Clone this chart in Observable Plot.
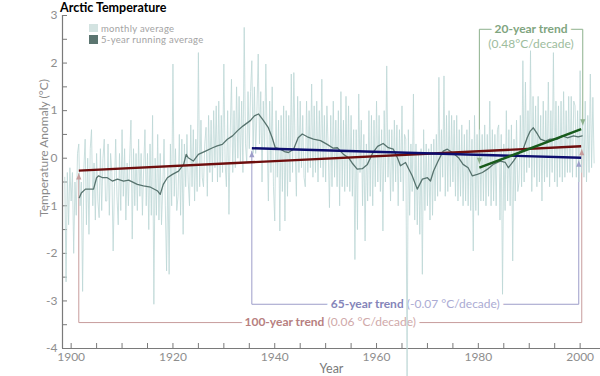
<!DOCTYPE html>
<html>
<head>
<meta charset="utf-8">
<script src="https://cdn.jsdelivr.net/npm/d3@7"></script>
<script src="https://cdn.jsdelivr.net/npm/@observablehq/plot@0.6"></script>
<style>
  body { margin: 0; background: #fff; }
  #wrap { position: relative; width: 600px; height: 376px; font-family: Lato, "Open Sans", sans-serif; }
  #wrap svg { position: absolute; left: 0; top: 0; }
  #title { position: absolute; left: 60px; top: 0px; font-weight: bold; font-size: 12.5px; color: #000; line-height: 15px; }
  #ylab { position: absolute; left: 43px; top: 148px; transform: translate(-50%, -50%) rotate(-90deg); white-space: nowrap; font-size: 12px; color: #8a8a8a; line-height: 13px; }
  .sw { position: absolute; left: 89px; width: 8.5px; height: 8.5px; }
  .lt { position: absolute; left: 101px; font-size: 9.5px; letter-spacing: 0.3px; color: #a3a3a3; line-height: 9px; white-space: nowrap; }
</style>
</head>
<body>
<div id="wrap">
  <div id="title"></div>
  <div id="ylab"></div>
</div>
<script>
// ---------- DATA ----------
const title = "Arctic Temperature";
const legendLabels = ["monthly average", "5-year running average"];
const xLabel = "Year";
const yLabel = "Temperature Anomaly (°C)";
const xTickYears = [1900, 1905, 1910, 1915, 1920, 1925, 1930, 1935, 1940, 1945, 1950, 1955, 1960, 1965, 1970, 1975, 1980, 1985, 1990, 1995, 2000];
const xLabelYears = [1900, 1920, 1940, 1960, 1980, 2000];
const yTickValues = [-4, -3.5, -3, -2.5, -2, -1.5, -1, -0.5, 0, 0.5, 1, 1.5, 2, 2.5, 3];
const yLabelValues = [-4, -3, -2, -1, 0, 1, 2, 3];

// monthly series (sampled quarterly), starting 1898.75
const monthlyStart = 1898.75;
const monthlyStep = 0.25;
const monthlyTemp = [
  -0.4,
  -2.6,-0.3,-1.4,-0.2,  -0.9,-0.3,-2.0,-0.5,  -1.2,0.1,0.3,-1.0,  -0.5,-2.8,-0.2,0.4,
  -1.4,0.0,-1.6,0.2,  0.6,-1.0,-0.1,-1.3,  0.1,-0.9,-1.25,0.2,  -1.1,0.0,0.4,-0.9,
  -0.9,0.3,-1.2,0.1,  -0.3,-1.95,-0.6,0.4,  -0.8,-1.4,0.1,-1.1,
  0.6,-0.8,0.2,-1.3,  -0.1,-1.0,0.0,0.8,  -1.7,0.2,-1.0,0.1,  -1.1,0.4,-0.8,0.1,
  -1.2,-0.2,0.6,-1.0,  0.1,-1.5,0.3,-1.2,  0.9,-3.07,0.0,-1.2,  0.5,-1.3,0.1,-1.4,
  -0.6,0.4,-1.0,-2.37,  -0.2,-2.44,0.3,-1.0,
  1.98,-0.8,0.2,-1.1,  -0.8,0.5,-1.2,0.4,  -1.6,0.3,-0.6,0.5,  -0.5,-1.0,0.7,-0.6,
  0.6,-0.9,0.4,-0.7,  2.22,-0.6,0.8,-0.4,  -0.6,0.3,0.65,-0.8,  0.9,-0.3,0.8,-0.5,
  1.0,-0.2,1.1,-0.5,  1.2,-0.4,0.9,-0.3,
  1.98,-0.1,-0.6,1.0,  -1.18,0.5,1.66,-0.3,  1.0,-0.2,1.5,0.0,  1.3,-0.1,1.2,-0.3,
  2.75,0.3,-0.1,1.4,  0.2,1.4,2.05,0.1,  1.5,0.1,1.0,2.19,  0.3,1.4,-0.5,1.2,
  0.2,1.98,0.4,-0.9,  1.2,-0.3,1.5,-0.6,
  -1.32,1.0,-0.4,0.8,  -1.53,0.9,-0.7,1.1,  -1.32,1.0,-0.8,0.9,  -0.5,1.77,-0.3,1.8,
  0.2,-0.8,1.3,-0.3,  1.2,-0.2,0.9,-0.4,  -0.6,1.2,-0.3,1.0,  -0.2,1.56,-0.4,1.1,
  -0.3,1.2,-0.5,1.0,  -0.2,1.66,-0.4,0.9,
  -0.5,1.1,0.2,-1.04,  0.9,-0.6,1.2,-0.4,  0.8,-0.6,1.0,-1.0,  1.4,-0.6,0.8,-0.7,
  1.3,-0.6,1.1,-0.7,  0.9,-0.8,0.6,-2.13,  0.6,-1.5,1.35,-0.3,  0.8,-1.0,0.5,-1.74,
  0.3,-0.9,1.0,-0.8,  0.9,-1.0,0.8,-0.6,
  1.2,-0.5,0.9,-0.7,  0.6,-1.53,1.0,-0.5,  1.94,-0.4,0.6,-0.9,  0.6,-0.7,0.8,-0.5,
  0.7,-1.0,0.6,-0.5,  1.1,-0.9,0.5,0.4,  -4.6,0.6,-1.2,0.3,  -0.7,1.35,-1.3,0.3,
  -1.4,0.1,-1.6,0.2,  -2.44,0.6,-1.1,0.3,
  -1.0,0.2,-1.3,0.3,  -1.2,0.4,-0.9,0.5,  -0.8,1.7,-0.7,0.6,  -0.4,1.73,-0.8,0.9,
  -0.7,1.0,-0.6,0.9,  -0.5,0.8,-0.8,0.9,  -0.9,0.6,-0.8,0.7,  -1.0,0.5,-0.9,0.6,
  -1.0,0.8,-1.1,0.4,  -1.95,0.9,-1.1,0.5,
  -1.2,0.6,-0.9,0.5,  -0.9,0.7,-1.0,0.5,  -0.8,1.2,-1.0,0.6,  -0.9,0.5,-1.0,0.6,
  0.7,-1.3,0.5,-2.86,  0.3,-1.1,1.0,-0.9,  0.6,-1.0,0.7,-2.16,  0.4,-0.9,0.8,-0.7,
  -0.5,0.9,-0.6,2.05,  -0.5,1.6,-0.3,1.0,
  -0.2,2.26,-0.7,1.3,  -0.4,1.1,-0.6,1.3,  -0.5,0.9,-0.9,1.2,  -0.5,1.0,-0.4,1.6,
  -0.6,1.0,-0.3,2.22,  -0.5,1.2,-0.6,1.1,  -0.4,1.2,-0.5,1.4,  -0.4,1.0,-0.3,1.3,
  -0.3,1.3,-0.4,1.2,  1.1,-0.4,1.0,-0.5,
  1.84,-0.3,0.8,-0.4,  1.2,-0.5,0.9,-0.3,  1.77,-0.2,1.28,-0.1
];

// 5-year running average
const runYears = [
  1901.6,1902.0,1902.8,1904.4,1905.0,1905.4,1906.2,1907.1,1908.1,1909.1,
  1910.3,1911.3,1913.0,1914.2,1915.6,1917.0,1917.5,1918.1,1918.9,1919.9,
  1921.1,1922.1,1922.6,1923.0,1924.0,1925.0,1926.4,1927.8,1928.7,1929.7,
  1930.7,1931.7,1932.7,1933.8,1935.2,1936.0,1936.8,1937.8,1938.7,1939.5,
  1940.1,1941.1,1941.9,1942.7,1943.7,1944.6,1945.4,1946.4,1947.6,1949.0,
  1950.3,1951.5,1952.3,1953.5,1954.5,1955.2,1956.2,1957.2,1958.2,1959.2,
  1960.2,1961.3,1962.3,1963.3,1964.1,1964.7,1965.7,1966.2,1967.0,1968.0,
  1969.0,1970.0,1970.6,1971.2,1972.1,1973.1,1973.9,1974.9,1976.1,1977.0,
  1978.0,1978.8,1979.8,1980.8,1981.8,1982.9,1984.3,1985.3,1985.9,1986.9,
  1987.8,1988.8,1989.6,1990.2,1990.8,1991.6,1992.2,1993.2,1994.1,1995.5,
  1996.5,1997.5,1998.7,1999.6,2000.4
];
const runTemp = [
  -0.83,-0.73,-0.65,-0.65,-0.41,-0.37,-0.41,-0.41,-0.48,-0.44,
  -0.48,-0.46,-0.55,-0.58,-0.61,-0.69,-0.76,-0.55,-0.41,-0.34,
  -0.27,-0.13,0.08,0.01,-0.06,0.08,0.15,0.22,0.26,0.29,
  0.40,0.47,0.58,0.68,0.79,0.89,0.93,0.79,0.65,0.43,
  0.22,0.19,0.14,0.12,0.19,0.43,0.51,0.45,0.40,0.37,
  0.29,0.21,0.22,0.08,0.01,-0.10,-0.23,-0.22,-0.13,0.10,
  0.25,0.31,0.22,0.19,0.01,-0.16,-0.09,-0.20,-0.37,-0.65,
  -0.44,-0.41,-0.48,-0.27,-0.06,0.15,0.19,0.12,0.01,-0.13,
  -0.20,-0.37,-0.34,-0.30,-0.23,-0.13,-0.06,-0.09,-0.20,-0.06,
  0.08,0.19,0.43,0.57,0.64,0.51,0.40,0.36,0.40,0.40,
  0.47,0.43,0.47,0.45,0.47
];

// linear trends
const trendNames = ["100-year trend", "65-year trend", "20-year trend"];
const trendRates = ["(0.06 °C/decade)", "(-0.07 °C/decade)", "(0.48°C/decade)"];
const trendStartYear = [1901.5, 1935.5, 1980.2];
const trendEndYear = [2000.2, 2000.2, 2000.2];
const trendStartTemp = [-0.26, 0.21, -0.20];
const trendEndTemp = [0.25, 0.01, 0.61];

// ---------- LAYOUT / STYLE ----------
const W = 600, H = 376, mL = 62, mR = 0, mT = 15, mB = 28;
const xDomain = [1898.3, 2004];
const yDomain = [-4, 3];
const pxPerYear = (W - mL - mR) / (xDomain[1] - xDomain[0]);
const pxPerDeg = (H - mT - mB) / (yDomain[1] - yDomain[0]);
const FONT = "Lato, 'Open Sans', sans-serif";
const axisColor = "#7a7a7a";
const tickTextColor = "#8e8e8e";
const monthlyColor = "#bdd7d5";
const runColor = "#57736e";

const trendStyle = [
  {line: "#6e0e0e", bracket: "#c79c9c", label: "#b77f7f", rate: "#cfa9a9", level: -3.455, up: true, rightShift: 0.6, gap: 3},
  {line: "#0d0d6e", bracket: "#9d9dc9", label: "#8585b9", rate: "#ababd3", level: -3.07, up: true, rightShift: -2.4, gap: 3},
  {line: "#185b1c", bracket: "#8db18d", label: "#7fa57f", rate: "#9dbc9d", level: 2.71, up: false, rightShift: 1.6, gap: 4}
];

const triUp = {draw(ctx) { ctx.moveTo(0, 0); ctx.lineTo(-2.6, 6); ctx.lineTo(2.6, 6); ctx.closePath(); }};
const triDown = {draw(ctx) { ctx.moveTo(0, 0); ctx.lineTo(-2.6, -6); ctx.lineTo(2.6, -6); ctx.closePath(); }};

// ---------- BUILD ----------
const monthly = monthlyTemp.map((v, i) => ({year: monthlyStart + i * monthlyStep, temp: v}));
const running = runYears.map((y, i) => ({year: y, temp: runTemp[i]}));

const trendMarks = [];
const labelMarks = [];
const bracketMarks = [];
trendNames.forEach((name, i) => {
  const st = trendStyle[i];
  const x1 = trendStartYear[i], x2 = trendEndYear[i];
  const y1 = trendStartTemp[i], y2 = trendEndTemp[i];
  const g = st.gap / pxPerDeg;
  const tip1 = st.up ? y1 - g : y1 + g;
  const tip2 = st.up ? y2 - g : y2 + g;
  const xr = x2 + st.rightShift / pxPerYear;
  const path = [{x: x1, y: tip1}, {x: x1, y: st.level}, {x: xr, y: st.level}, {x: xr, y: tip2}];
  bracketMarks.push(Plot.line(path, {x: "x", y: "y", stroke: st.bracket, strokeWidth: 1}));
  const mid = (x1 + xr) / 2;
  if (st.up) {
    labelMarks.push(Plot.text([{x: mid, y: st.level}], {
      x: "x", y: "y", text: () => name + " " + trendRates[i],
      fill: st.label, fontWeight: "bold", fontSize: 12, fontFamily: FONT,
      stroke: "white", strokeWidth: 8, strokeLinejoin: "round"
    }));
  } else {
    labelMarks.push(Plot.text([{x: mid, y: st.level}], {
      x: "x", y: "y", text: () => name,
      fill: st.label, fontWeight: "bold", fontSize: 12, fontFamily: FONT,
      stroke: "white", strokeWidth: 8, strokeLinejoin: "round"
    }));
    labelMarks.push(Plot.text([{x: mid, y: st.level}], {
      x: "x", y: "y", text: () => trendRates[i], dy: 15,
      fill: st.rate, fontSize: 12, fontFamily: FONT
    }));
  }
  trendMarks.push(Plot.link([{x1, y1, x2, y2}], {x1: "x1", y1: "y1", x2: "x2", y2: "y2", stroke: st.line, strokeWidth: 2.4}));
  trendMarks.push(Plot.dot([{x: x1, y: tip1}, {x: xr, y: tip2}], {
    x: "x", y: "y", symbol: st.up ? triUp : triDown, fill: st.bracket, stroke: "none", r: 3
  }));
});

const chart = Plot.plot({
  width: W, height: H,
  marginLeft: mL, marginRight: mR, marginTop: mT, marginBottom: mB,
  x: {domain: xDomain, axis: null},
  y: {domain: yDomain, axis: null},
  style: {fontFamily: FONT, fontSize: "12px", background: "transparent", overflow: "visible"},
  marks: [
    // axes
    Plot.ruleX([xDomain[0]], {stroke: axisColor, strokeWidth: 1.2}),
    Plot.ruleY([yDomain[0]], {stroke: axisColor, strokeWidth: 1.2}),
    Plot.axisX({ticks: xTickYears, tickSize: -5, tickFormat: () => "", stroke: axisColor}),
    Plot.axisX({ticks: xLabelYears, tickSize: 0, tickPadding: 4, tickFormat: d => String(d), fill: tickTextColor, fontSize: 12}),
    Plot.axisY({ticks: yTickValues, tickSize: -5, tickFormat: () => "", stroke: axisColor}),
    Plot.axisY({ticks: yLabelValues, tickSize: 0, tickPadding: 5, tickFormat: d => String(d), fill: tickTextColor, fontSize: 12}),
    Plot.text([xLabel], {frameAnchor: "bottom", dy: 24, fill: "#7a7a7a", fontSize: 12.5}),
    // brackets and labels
    ...bracketMarks,
    ...labelMarks,
    // data
    Plot.line(monthly, {x: "year", y: "temp", stroke: monthlyColor, strokeWidth: 0.8}),
    Plot.line(running, {x: "year", y: "temp", stroke: runColor, strokeWidth: 1.3}),
    ...trendMarks
  ]
});

const wrap = document.getElementById("wrap");
wrap.insertBefore(chart, wrap.firstChild);

// two-style labels (bold name + regular rate)
trendNames.forEach((name, i) => {
  const st = trendStyle[i];
  if (!st.up) return;
  const full = name + " " + trendRates[i];
  chart.querySelectorAll("text").forEach(t => {
    if (t.textContent === full) {
      t.textContent = "";
      const ns = "http://www.w3.org/2000/svg";
      const a = document.createElementNS(ns, "tspan");
      a.setAttribute("font-weight", "bold");
      a.setAttribute("fill", st.label);
      a.textContent = name;
      const b = document.createElementNS(ns, "tspan");
      b.setAttribute("font-weight", "normal");
      b.setAttribute("fill", st.rate);
      b.textContent = " " + trendRates[i];
      t.appendChild(a); t.appendChild(b);
    }
  });
});

// title, y label, legend
document.getElementById("title").textContent = title;
document.getElementById("ylab").textContent = yLabel;
const legendColors = ["#d3e3e1", "#5b7570"];
legendLabels.forEach((lab, i) => {
  const sw = document.createElement("div");
  sw.className = "sw";
  sw.style.top = (23.5 + i * 11.5) + "px";
  sw.style.background = legendColors[i];
  wrap.appendChild(sw);
  const tx = document.createElement("div");
  tx.className = "lt";
  tx.style.top = (23.5 + i * 11.5) + "px";
  tx.textContent = lab;
  wrap.appendChild(tx);
});
</script>
</body>
</html>
